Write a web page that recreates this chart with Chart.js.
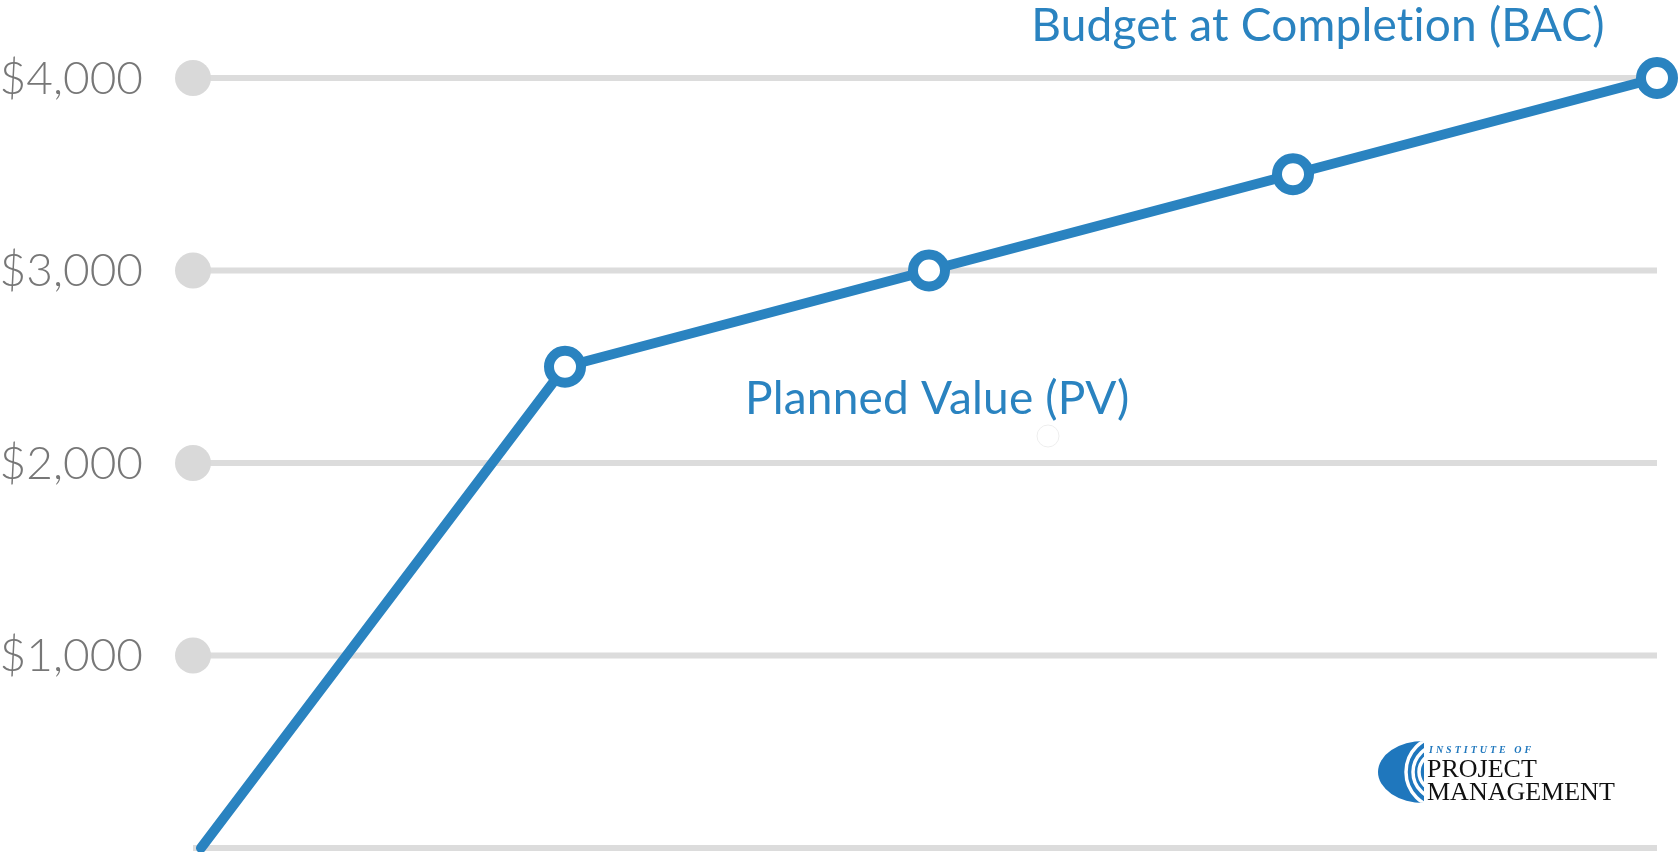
<!DOCTYPE html>
<html>
<head>
<meta charset="utf-8">
<style>
  html, body { margin: 0; padding: 0; background: #ffffff; overflow: hidden; }
  #wrap { width: 1680px; height: 852px; position: relative; }
</style>
<script src="https://cdn.jsdelivr.net/npm/chart.js@4.4.1/dist/chart.umd.min.js"></script>
</head>
<body>
<div id="wrap"><canvas id="c" width="1680" height="852"></canvas></div>
<script>
// ---- data ----
const categories = ["0", "1", "2", "3", "4"];
const plannedValue = [0, 2500, 3000, 3500, 4000];
const yTickValues = [1000, 2000, 3000, 4000];
const yTickLabels = ["$1,000", "$2,000", "$3,000", "$4,000"];
const gridValues = [0, 1000, 2000, 3000, 4000];
const labelBAC = "Budget at Completion (BAC)";
const labelPV = "Planned Value (PV)";

const BLUE = "#2a83c0";
const GRID = "#dcdcdc";

const decor = {
  id: "decor",
  beforeDatasetsDraw(chart) {
    const ctx = chart.ctx;
    const y = chart.scales.y;
    const area = chart.chartArea;
    ctx.save();
    gridValues.forEach(v => {
      const py = y.getPixelForValue(v);
      ctx.strokeStyle = GRID;
      ctx.lineWidth = 6;
      ctx.beginPath();
      ctx.moveTo(193, py);
      ctx.lineTo(area.right, py);
      ctx.stroke();
    });
    yTickValues.forEach((v, i) => {
      const py = y.getPixelForValue(v);
      ctx.fillStyle = "#d9d9d9";
      ctx.beginPath();
      ctx.arc(193, py, 18, 0, Math.PI * 2);
      ctx.fill();
      ctx.fillStyle = "#777777";
      ctx.font = "300 46px Lato";
      ctx.textAlign = "right";
      ctx.textBaseline = "middle";
      ctx.fillText(yTickLabels[i], 143, py + 1);
    });
    ctx.restore();
  },
  afterDraw(chart) {
    const ctx = chart.ctx;
    ctx.save();
    ctx.fillStyle = BLUE;
    ctx.textBaseline = "alphabetic";
    ctx.letterSpacing = "0.2px";
    ctx.font = "400 46px Lato";
    ctx.textAlign = "center";
    ctx.fillText(labelBAC, 1318, 41);
    ctx.font = "400 46px Lato";
    ctx.textAlign = "left";
    ctx.fillText(labelPV, 745, 414);
    ctx.letterSpacing = "0px";

    // faint ghost circle
    ctx.strokeStyle = "#eeeeee";
    ctx.lineWidth = 1;
    ctx.beginPath();
    ctx.arc(1048, 436, 11, 0, Math.PI * 2);
    ctx.stroke();

    // logo mark: nested crescents
    ctx.save();
    ctx.beginPath();
    ctx.ellipse(1424, 772, 46, 31, 0, Math.PI * 0.5, Math.PI * 1.5);
    ctx.closePath();
    ctx.clip();
    ctx.fillStyle = "#1f77bd";
    ctx.fillRect(1370, 735, 60, 75);
    ctx.fillStyle = "#ffffff";
    ctx.strokeStyle = "#ffffff";
    [[36, 3.5, 1442], [27, 3.5, 1440], [19, 3.5, 1438]].forEach(([r, w, cx]) => {
      ctx.lineWidth = w;
      ctx.beginPath();
      ctx.arc(cx, 772, r, 0, Math.PI * 2);
      ctx.stroke();
    });
    ctx.beginPath();
    ctx.arc(1437, 772, 12, 0, Math.PI * 2);
    ctx.fill();
    ctx.restore();

    ctx.fillStyle = "#1f77bd";
    ctx.font = "italic 700 10px 'Liberation Serif'";
    ctx.textAlign = "left";
    ctx.letterSpacing = "3px";
    ctx.fillText("INSTITUTE OF", 1429, 753);
    ctx.fillStyle = "#111111";
    ctx.letterSpacing = "0px";
    ctx.font = "400 26px 'Liberation Serif'";
    ctx.fillText("PROJECT", 1427, 777);
    ctx.fillText("MANAGEMENT", 1427, 800);
    ctx.restore();
  }
};

new Chart(document.getElementById("c"), {
  type: "line",
  data: {
    labels: categories,
    datasets: [{
      data: plannedValue,
      borderColor: BLUE,
      borderWidth: 10,
      borderCapStyle: "round",
      borderJoinStyle: "round",
      tension: 0,
      fill: false,
      clip: false,
      pointRadius: [0, 16, 16, 16, 16],
      pointBorderWidth: 10,
      pointBorderColor: BLUE,
      pointBackgroundColor: "#ffffff",
      pointHoverRadius: 16
    }]
  },
  options: {
    responsive: false,
    animation: false,
    devicePixelRatio: 1,
    layout: { autoPadding: false, padding: { left: 201, right: 23, top: 78, bottom: 4 } },
    plugins: { legend: { display: false }, tooltip: { enabled: false } },
    scales: {
      x: { display: false, offset: false },
      y: { display: false, min: 0, max: 4000 }
    }
  },
  plugins: [decor]
});
</script>
</body>
</html>
